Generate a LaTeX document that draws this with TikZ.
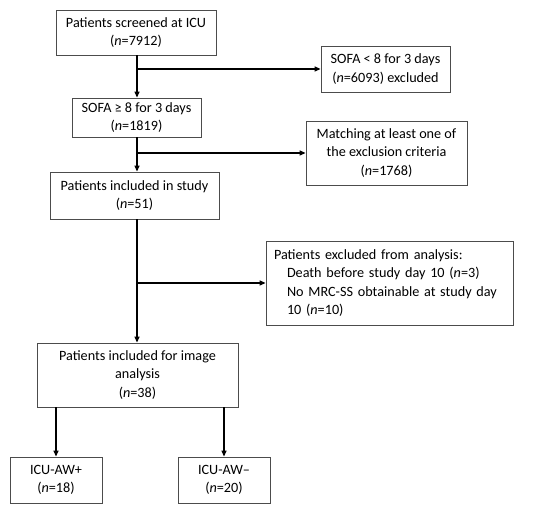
\documentclass[tikz,border=0pt]{standalone}
\usepackage{fontspec}
\setmainfont{Carlito}
\usetikzlibrary{arrows.meta}
\begin{document}
\begin{tikzpicture}[x=1pt,y=-1pt,
  box/.style={draw=black!70,line width=0.8pt,align=center,inner sep=0pt,
    font=\fontsize{14.2}{18.5}\selectfont},
  arr/.style={line width=1.2pt,-{Triangle[length=6pt,width=5pt]}}]
\useasboundingbox (0,0) rectangle (550,510);
\node[box,minimum width=160,minimum height=45] (b1) at (136,32.5) {Patients screened at ICU\\(\textit{n}=7912)};
\node[box,minimum width=129,minimum height=46] (b2) at (385.5,69) {SOFA < 8 for 3 days\\(\textit{n}=6093) excluded};
\node[box,minimum width=129,minimum height=39] (b3) at (136.5,117.5) {SOFA ≥ 8 for 3 days\\(\textit{n}=1819)};
\node[box,minimum width=161,minimum height=64] (b4) at (386.5,153) {Matching at least one of\\the exclusion criteria\\(\textit{n}=1768)};
\node[box,minimum width=169,minimum height=47] (b5) at (134.5,195.5) {Patients included in study\\(\textit{n}=51)};
\node[box,minimum height=84,text width=231,align=left,inner xsep=8] (b6) at (389.5,283) {Patients excluded from analysis:\\\hspace*{13pt}Death before study day 10 (\textit{n}=3)\\\hspace*{13pt}No MRC-SS obtainable at study day\\\hspace*{13pt}10 (\textit{n}=10)};
\node[box,minimum width=201,minimum height=64] (b7) at (137.5,375) {Patients included for image\\analysis\\(\textit{n}=38)};
\node[box,minimum width=92,minimum height=46] (b8) at (56,480) {ICU-AW+\\(\textit{n}=18)};
\node[box,minimum width=92,minimum height=46] (b9) at (224,480) {ICU-AW–\\(\textit{n}=20)};
\coordinate (j1) at (137,69);
\coordinate (j2) at (137,153);
\coordinate (j3) at (137,283);
\draw[arr] (b1.south -| j1) -- (b3.north -| j1);
\draw[arr] (j1) -- (b2.west);
\draw[arr] (b3.south -| j2) -- (b5.north -| j2);
\draw[arr] (j2) -- (b4.west);
\draw[arr] (b5.south -| j3) -- (b7.north -| j3);
\draw[arr] (j3) -- (b6.west);
\draw[arr] (b7.south -| b8) -- (b8.north);
\draw[arr] (b7.south -| b9) -- (b9.north);
\end{tikzpicture}
\end{document}
